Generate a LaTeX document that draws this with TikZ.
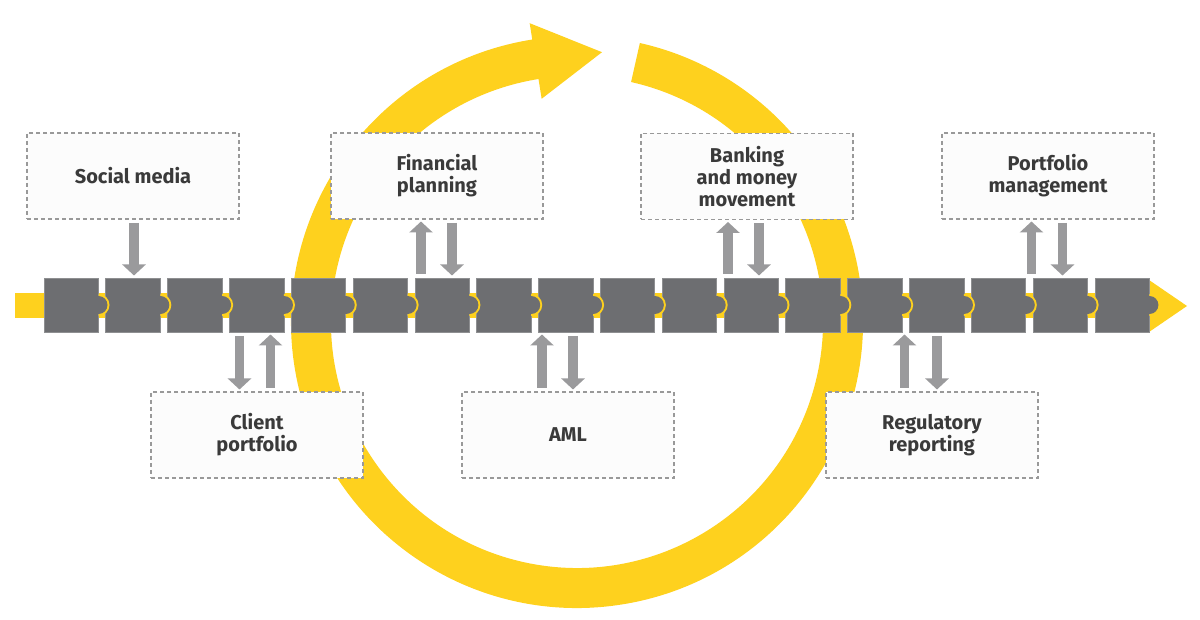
\documentclass[tikz,border=0pt]{standalone}
\usepackage{fontspec}
\setmainfont{Fira Sans}
\usetikzlibrary{arrows.meta,calc}
\definecolor{eyyellow}{HTML}{FED11E}
\definecolor{piecegray}{HTML}{6D6E71}
\definecolor{pieceedge}{HTML}{8E8F91}
\definecolor{arrowgray}{HTML}{9A9A9C}
\definecolor{boxedge}{HTML}{999999}
\definecolor{boxfill}{HTML}{FCFCFC}
\definecolor{txt}{HTML}{3A3A3A}
\begin{document}
\begin{tikzpicture}[x=1pt,y=-1pt,
  piece/.style={fill=piecegray, draw=pieceedge, line width=0.8pt, minimum width=54.5pt, minimum height=54pt, inner sep=0pt, outer sep=0pt},
  infobox/.style={draw=boxedge, fill=boxfill, dash pattern=on 4pt off 3pt, line width=1.2pt, minimum width=212pt, minimum height=86pt, inner sep=0pt, outer sep=0pt, text=txt, font=\fontsize{20}{22}\selectfont\bfseries, align=center},
  garrow/.style={draw=arrowgray, line width=9.5pt, -{Triangle[width=23pt,length=11pt]}, shorten <=4pt, shorten >=2.5pt}
]
\useasboundingbox (0,0) rectangle (1200,620);
% cycle ring
\coordinate (c) at (577,322);
\fill[eyyellow] ($(c)+(-99:286)$) arc[start angle=-99, end angle=-437.3, radius=286]
  -- ($(c)+(-437.3:246)$) arc[start angle=-437.3, end angle=-99, radius=246]
  -- ($(c)+(-99:226)$) -- ($(c)+(-84.7:271)$) -- ($(c)+(-99:302.5)$) -- cycle;
% timeline band with arrowhead
\fill[eyyellow] (15,293) rectangle (1150,318);
\fill[eyyellow] (1149,280) -- (1187,306) -- (1149,332) -- cycle;
% puzzle pieces
\foreach \i in {0,...,17} {
  \node[piece] (p\i) at ({71.25+61.82*\i},305) {};
}
\foreach \i in {0,...,17} {
  \fill[eyyellow] (p\i.east) ++(0,-11) arc[start angle=-90, end angle=90, radius=11] -- cycle;
  \fill[piecegray] (p\i.east) circle[radius=9];
}
% boxes
\node[infobox] (sm) at (133,176) {Social media};
\node[infobox] (fp) at (437,176) {Financial\\planning};
\node[infobox] (bk) at (747,176.5) {Banking\\and money\\movement};
\node[infobox] (pm) at (1048,176) {Portfolio\\management};
\node[infobox] (cp) at (257,435) {Client\\portfolio};
\node[infobox] (aml) at (568,435) {AML};
\node[infobox] (rr) at (932,435) {Regulatory\\reporting};
% arrows
\draw[garrow] (sm.south -| 134,0) -- (p1.north -| 134,0);
\draw[garrow] (p3.south -| 239.5,0) -- (cp.north -| 239.5,0);
\draw[garrow] (cp.north -| 270.5,0) -- (p3.south -| 270.5,0);
\draw[garrow] (p6.north -| 421,0) -- (fp.south -| 421,0);
\draw[garrow] (fp.south -| 452,0) -- (p6.north -| 452,0);
\draw[garrow] (aml.north -| 542,0) -- (p8.south -| 542,0);
\draw[garrow] (p8.south -| 573,0) -- (aml.north -| 573,0);
\draw[garrow] (p11.north -| 728,0) -- (bk.south -| 728,0);
\draw[garrow] (bk.south -| 759,0) -- (p11.north -| 759,0);
\draw[garrow] (rr.north -| 904.5,0) -- (p14.south -| 904.5,0);
\draw[garrow] (p14.south -| 937,0) -- (rr.north -| 937,0);
\draw[garrow] (p16.north -| 1031.5,0) -- (pm.south -| 1031.5,0);
\draw[garrow] (pm.south -| 1062.5,0) -- (p16.north -| 1062.5,0);
\end{tikzpicture}
\end{document}
